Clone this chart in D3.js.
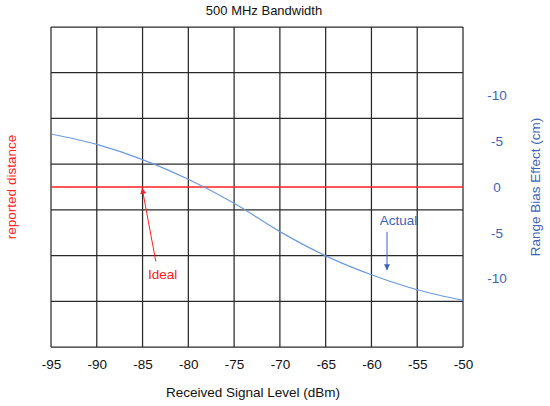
<!DOCTYPE html>
<html>
<head>
<meta charset="utf-8">
<script src="https://cdn.jsdelivr.net/npm/d3@7"></script>
<style>
  body { margin: 0; background: #fff; }
  text { font-family: "Liberation Sans", Arial, sans-serif; }
</style>
</head>
<body>
<svg width="550" height="406"></svg>
<script>
// received signal level (dBm)
var levels = [-95, -90, -85, -80, -75, -70, -65, -60, -55, -50];
// range bias effect of the actual curve (cm, up = positive on plot)
var actualBias = [5.8, 4.66, 3.0, 0.84, -1.78, -4.88, -7.53, -9.6, -11.24, -12.4];
// ideal line
var idealBias = [0, 0];
var idealLevels = [-95, -50];
var xTicks = [-95, -90, -85, -80, -75, -70, -65, -60, -55, -50];
var xTickLabels = ["-95", "-90", "-85", "-80", "-75", "-70", "-65", "-60", "-55", "-50"];
var biasTicks = [10, 5, 0, -5, -10];
var biasTickLabels = ["-10", "-5", "0", "-5", "-10"];

var svg = d3.select('svg');
var width = +svg.attr('width');
var height = +svg.attr('height');
var margin = {top: 27, right: 87, bottom: 59, left: 51};
var innerW = width - margin.left - margin.right;
var innerH = height - margin.top - margin.bottom;

var blue = '#6b9be0', blueText = '#3c64b4', red = '#ff2020';

var x = d3.scaleLinear().domain([-95, -50]).range([margin.left, margin.left + innerW]);
var y = d3.scaleLinear().domain([-17.5, 17.5]).range([margin.top + innerH, margin.top]);

// grid
var grid = svg.append('g').attr('stroke', '#2a2a2a').attr('stroke-width', 1.25);
grid.selectAll('line.v').data(xTicks).enter().append('line')
  .attr('x1', function(d){ return x(d); }).attr('x2', function(d){ return x(d); })
  .attr('y1', y(17.5)).attr('y2', y(-17.5));
grid.selectAll('line.h').data(d3.range(-17.5, 17.6, 5)).enter().append('line')
  .attr('y1', function(d){ return y(d); }).attr('y2', function(d){ return y(d); })
  .attr('x1', x(-95)).attr('x2', x(-50));

// x axis labels
var xAxis = d3.axisBottom(x).tickValues(xTicks).tickSize(0).tickPadding(12)
  .tickFormat(function(d, i){ return xTickLabels[i]; });
var gx = svg.append('g').attr('transform', 'translate(0,' + (margin.top + innerH) + ')').call(xAxis);
gx.select('.domain').remove();
gx.selectAll('text').attr('font-size', 13.5).attr('fill', '#111')
  .style('font-family', '"Liberation Sans", Arial, sans-serif');

// right axis labels
var yAxis = d3.axisRight(y).tickValues(biasTicks).tickSize(0).tickPadding(0)
  .tickFormat(function(d, i){ return biasTickLabels[i]; });
var gy = svg.append('g').attr('transform', 'translate(497,0)').call(yAxis);
gy.select('.domain').remove();
gy.selectAll('text').attr('font-size', 13.5).attr('fill', blueText).attr('text-anchor', 'middle')
  .style('font-family', '"Liberation Sans", Arial, sans-serif');

// lines
var line = d3.line().x(function(d){ return x(d[0]); }).y(function(d){ return y(d[1]); });
svg.append('path')
  .datum(d3.zip(idealLevels, idealBias))
  .attr('d', line).attr('fill', 'none').attr('stroke', red).attr('stroke-width', 1.6);
svg.append('path')
  .datum(d3.zip(levels, actualBias))
  .attr('d', line.curve(d3.curveMonotoneX)).attr('fill', 'none').attr('stroke', blue).attr('stroke-width', 1.2);

// arrow markers
var defs = svg.append('defs');
function marker(id, color) {
  defs.append('marker').attr('id', id).attr('viewBox', '0 0 10 10')
    .attr('refX', 10).attr('refY', 5).attr('markerWidth', 9).attr('markerHeight', 6)
    .attr('markerUnits', 'userSpaceOnUse').attr('orient', 'auto')
    .append('path').attr('d', 'M0,0L10,5L0,10Z').attr('fill', color);
}
marker('arRed', red);
marker('arBlue', blueText);

// Ideal annotation
svg.append('line')
  .attr('x1', x(-83.55)).attr('y1', y(-8.15)).attr('x2', x(-85.05)).attr('y2', y(-0.1))
  .attr('stroke', red).attr('stroke-width', 1).attr('marker-end', 'url(#arRed)');
svg.append('text').attr('x', x(-82.8)).attr('y', y(-10.05)).attr('text-anchor', 'middle')
  .attr('font-size', 13.5).attr('fill', red).text('Ideal');

// Actual annotation
svg.append('line')
  .attr('x1', x(-58.3)).attr('y1', y(-4.9)).attr('x2', x(-58.3)).attr('y2', y(-9.1))
  .attr('stroke', blueText).attr('stroke-width', 1).attr('marker-end', 'url(#arBlue)');
svg.append('text').attr('x', x(-57.05)).attr('y', y(-4.15)).attr('text-anchor', 'middle')
  .attr('font-size', 13.5).attr('fill', blueText).text('Actual');

// titles
svg.append('text').attr('x', 264).attr('y', 15).attr('text-anchor', 'middle')
  .attr('font-size', 13).attr('fill', '#111').text('500 MHz Bandwidth');
svg.append('text').attr('x', 253).attr('y', 397).attr('text-anchor', 'middle')
  .attr('font-size', 13.5).attr('fill', '#111').text('Received Signal Level (dBm)');
svg.append('text').attr('transform', 'translate(16,' + y(0) + ') rotate(-90)').attr('text-anchor', 'middle')
  .attr('font-size', 13.5).attr('fill', red).text('reported distance');
svg.append('text').attr('transform', 'translate(540,' + y(0) + ') rotate(-90)').attr('text-anchor', 'middle')
  .attr('font-size', 13.5).attr('fill', blueText).text('Range Bias Effect (cm)');
</script>
</body>
</html>
